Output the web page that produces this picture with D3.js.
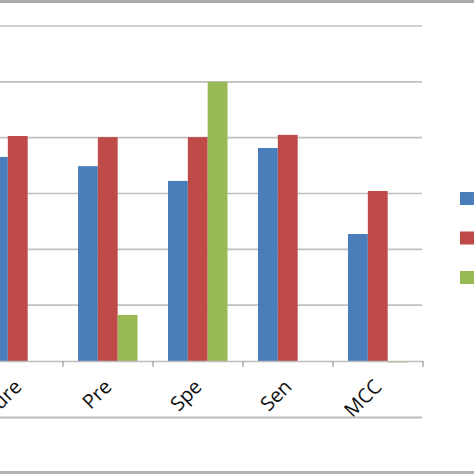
<!DOCTYPE html>
<html>
<head>
<meta charset="utf-8">
<script src="https://cdn.jsdelivr.net/npm/d3@7"></script>
<style>
  html, body { margin: 0; padding: 0; background: #fff; }
  svg { display: block; }
</style>
</head>
<body>
<svg id="chart" width="474" height="474"></svg>
<script>
// ---- data ----
const categories = ["F-Measure", "Pre", "Spe", "Sen", "MCC"];
const seriesNames = ["Series 1", "Series 2", "Series 3"];
const series1 = [0.731, 0.698, 0.645, 0.763, 0.455];
const series2 = [0.806, 0.802, 0.802, 0.810, 0.609];
const series3 = [0.0, 0.165, 1.0, 0.0, -0.005];
const yTicks = [0, 0.2, 0.4, 0.6, 0.8, 1.0, 1.2];
const colors = ["#4a7ebb", "#be4b48", "#98b954"];

const seriesValues = [series1, series2, series3];

const svg = d3.select("#chart");

// frame bands
svg.append("rect").attr("x", 0).attr("y", 0).attr("width", 474).attr("height", 3).attr("fill", "#a9a9a9");
svg.append("rect").attr("x", 0).attr("y", 471).attr("width", 474).attr("height", 3).attr("fill", "#b3b3b3");

const x = d3.scaleBand().domain(categories).range([-27, 423]).paddingInner(0).paddingOuter(0);
const xInner = d3.scaleBand().domain(seriesNames).range([15, 74.5]);
const y = d3.scaleLinear().domain([0, 1.2]).range([361, 26]);

// gridlines
svg.append("g").selectAll("line").data(yTicks.filter(t => t > 0)).join("line")
  .attr("x1", -30).attr("x2", 422)
  .attr("y1", d => y(d)).attr("y2", d => y(d))
  .attr("stroke", "#c0c0c0").attr("stroke-width", 1.6);

// bars
const groups = svg.append("g").selectAll("g").data(categories).join("g")
  .attr("transform", d => `translate(${x(d)},0)`);
groups.selectAll("rect")
  .data((c, ci) => seriesNames.map((s, si) => ({ s, si, v: seriesValues[si][ci] })))
  .join("rect")
  .attr("x", d => xInner(d.s))
  .attr("width", xInner.bandwidth())
  .attr("y", d => Math.min(y(d.v), y(0)))
  .attr("height", d => Math.max(Math.abs(y(d.v) - y(0)), d.v !== 0 ? 1 : 0))
  .attr("fill", d => colors[d.si]);

// x axis
const axis = svg.append("g").attr("transform", `translate(0,${y(0)})`)
  .call(d3.axisBottom(x).tickSize(0).tickFormat(""));
axis.select(".domain").attr("stroke", "#bdbdbd").attr("stroke-width", 1.6);
// category boundary ticks
axis.append("g").selectAll("line").data(categories).join("line")
  .attr("x1", d => x(d) + x.bandwidth()).attr("x2", d => x(d) + x.bandwidth())
  .attr("y1", 0).attr("y2", 6)
  .attr("stroke", "#9a9a9a").attr("stroke-width", 1.2);

// category labels
svg.append("g").selectAll("text").data(categories).join("text")
  .attr("transform", d => `translate(${x(d) + x.bandwidth() / 2 + 5},388) rotate(-45)`)
  .attr("text-anchor", "end")
  .attr("font-family", "'Open Sans', sans-serif")
  .attr("font-size", 20)
  .attr("fill", "#111")
  .text(d => d);

// lower line
svg.append("line").attr("x1", 0).attr("x2", 422).attr("y1", 417.5).attr("y2", 417.5)
  .attr("stroke", "#bcbcbc").attr("stroke-width", 2);

// legend swatches (labels lie beyond the visible area)
svg.append("g").selectAll("rect").data(seriesNames).join("rect")
  .attr("x", 460).attr("y", (d, i) => 192 + i * 39.5)
  .attr("width", 16).attr("height", 13)
  .attr("fill", (d, i) => colors[i]);
</script>
</body>
</html>
